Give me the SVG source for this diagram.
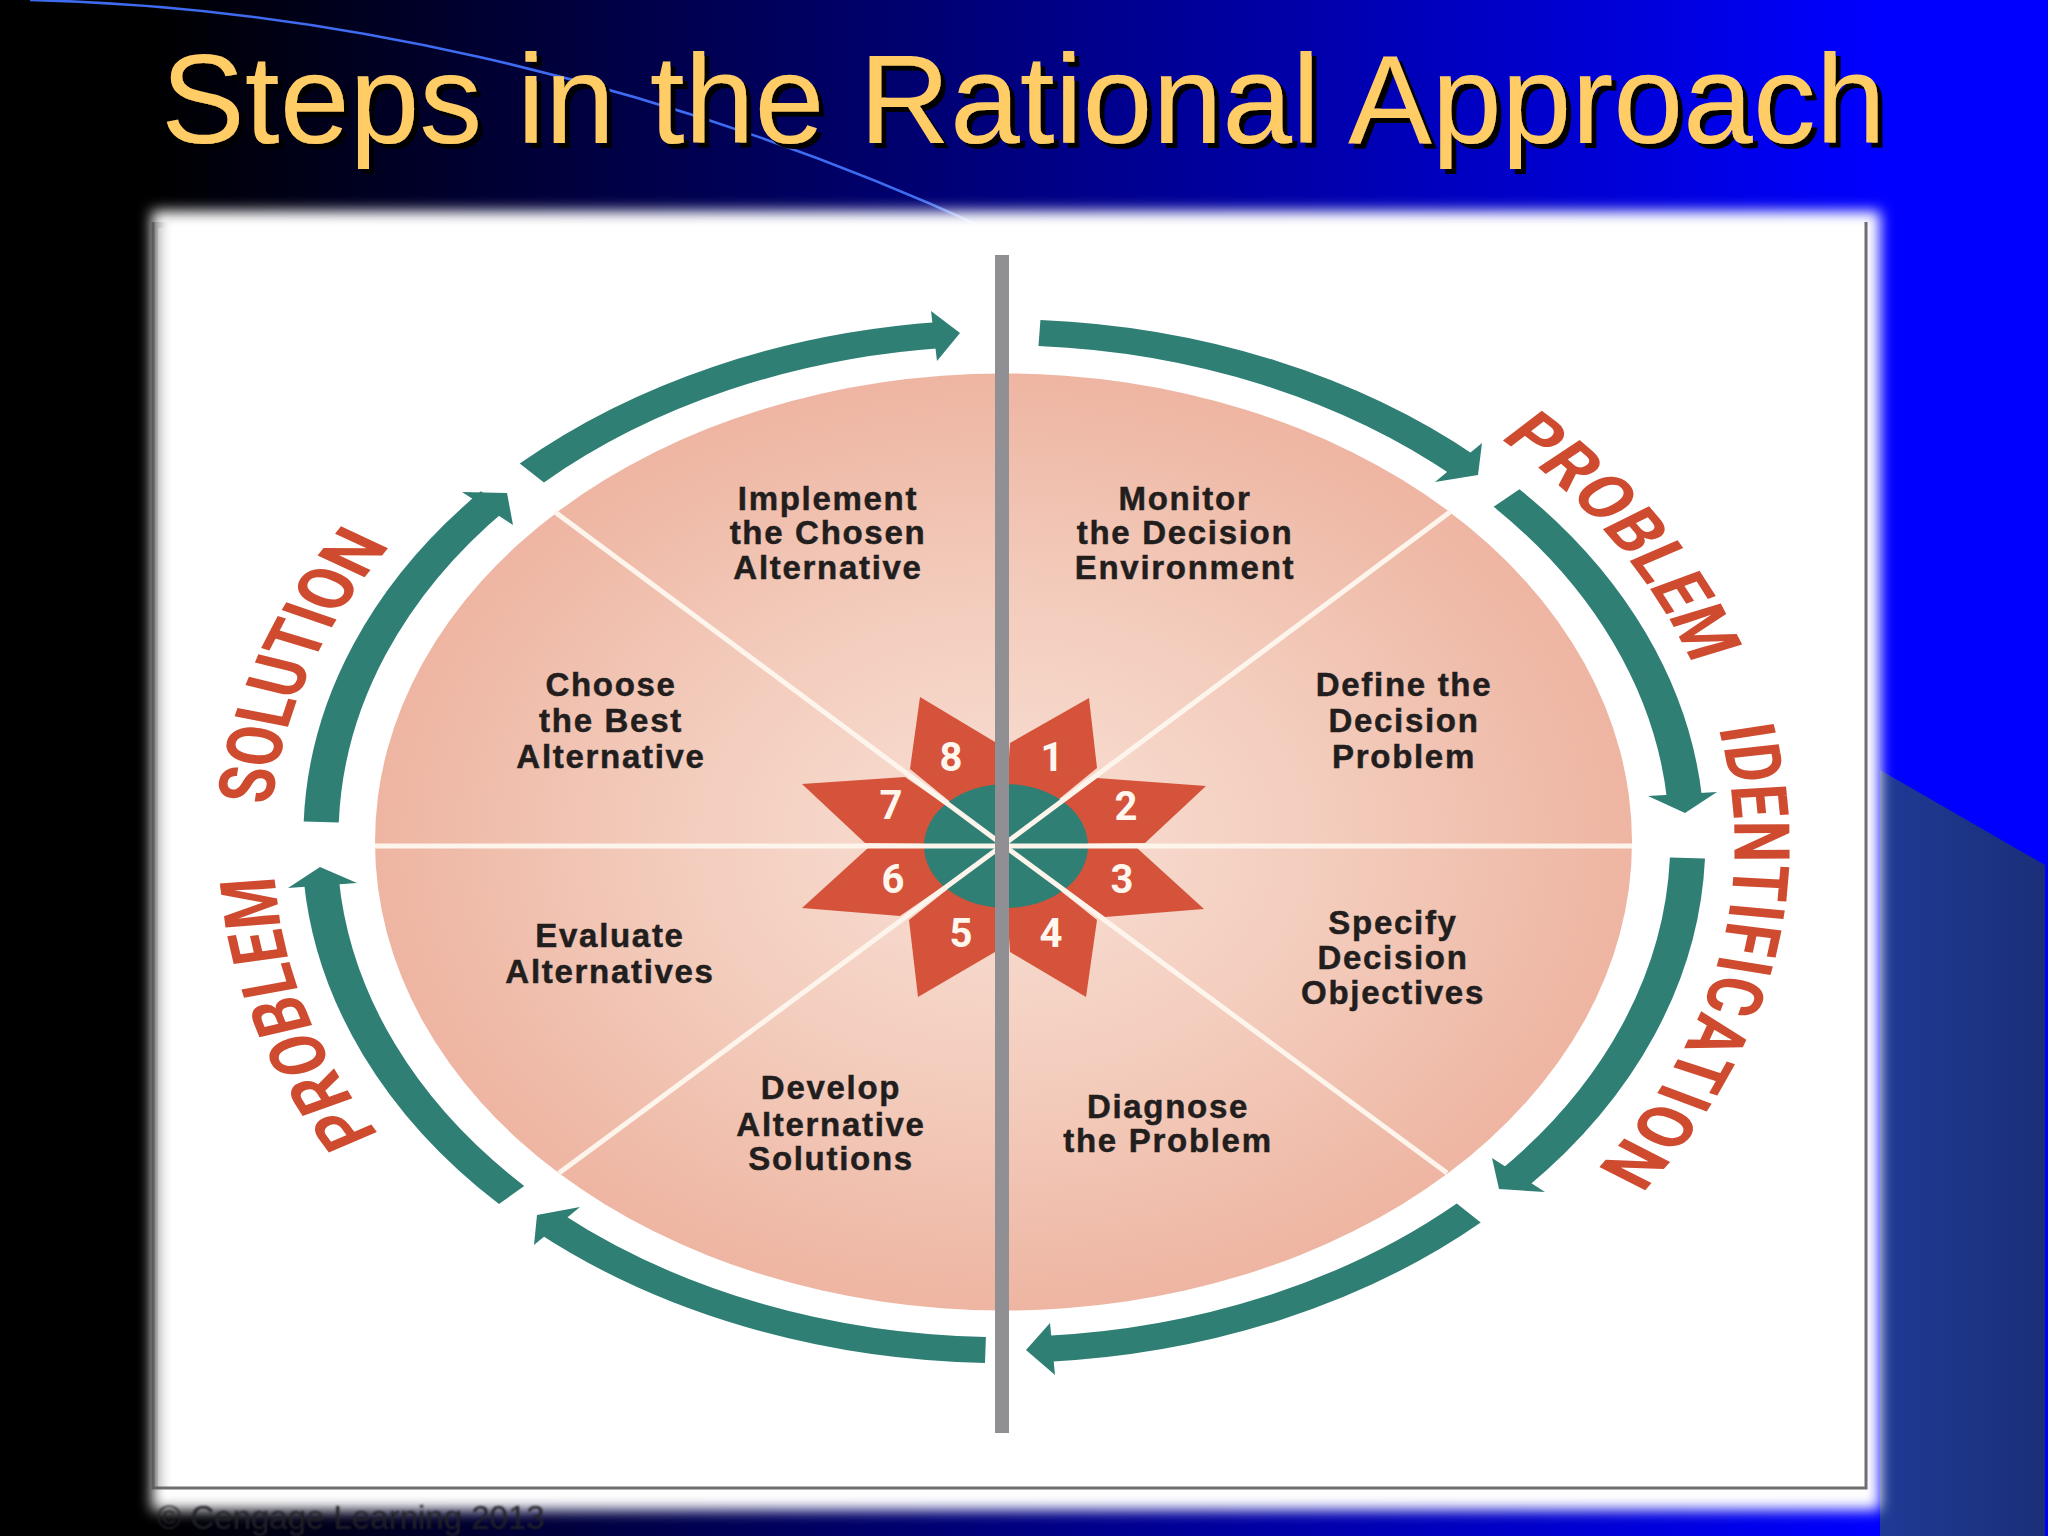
<svg xmlns="http://www.w3.org/2000/svg" width="2048" height="1536" viewBox="0 0 2048 1536">
<style>
.title{font-family:"Liberation Sans",Arial,sans-serif;font-size:125.6px;fill:#ffcc66}
.step{font-family:"Liberation Sans",Arial,sans-serif;font-weight:700;font-size:33px;letter-spacing:1.7px;fill:#221e1e;stroke:#221e1e;stroke-width:0.5;text-anchor:middle}
.num{font-family:"Roboto","Liberation Sans",sans-serif;font-weight:700;font-size:40px;fill:#fff6ee;text-anchor:middle}
.arc{font-family:"Roboto","Liberation Sans",sans-serif;font-weight:700;font-size:59px;fill:#cf4b30}
.copy{font-family:"Liberation Sans",Arial,sans-serif;font-size:33px;fill:#222228}
.div{stroke:#fdf4ec;stroke-width:5;fill:none}
.body{fill:none;stroke:#2f7f75;stroke-width:26}
.head{fill:#2f7f75}
.pt{fill:#d4533a}
</style>
<defs>
<linearGradient id="bg" x1="0" y1="0" x2="1" y2="0">
<stop offset="0.07" stop-color="#000"/><stop offset="0.92" stop-color="#0000ff"/>
</linearGradient>
<linearGradient id="low" x1="0" y1="0" x2="1" y2="0">
<stop offset="0" stop-color="#1f3a96"/><stop offset="1" stop-color="#1b2f78"/>
</linearGradient>
<linearGradient id="edge" x1="0" y1="0" x2="1" y2="0">
<stop offset="0" stop-color="#777" stop-opacity="0.65"/><stop offset="1" stop-color="#fff" stop-opacity="0"/>
</linearGradient>
<radialGradient id="disc" cx="0.5" cy="0.5" r="0.5">
<stop offset="0" stop-color="#f8e0d5"/><stop offset="0.55" stop-color="#f3cbbb"/><stop offset="1" stop-color="#eeb5a2"/>
</radialGradient>
<filter id="soft" x="-5%" y="-5%" width="110%" height="110%"><feGaussianBlur stdDeviation="7"/></filter>
<filter id="shadow" x="-2%" y="-10%" width="104%" height="125%"><feDropShadow dx="5" dy="5" stdDeviation="0.6" flood-color="#000"/></filter>
<filter id="blur1"><feGaussianBlur stdDeviation="0.9"/></filter>
<path id="p1" d="M378 -407A556 556 0 0 1 540 -130"/>
<path id="p2" d="M545 -117A556 556 0 0 1 420 365"/>
<path id="p3" d="M-475 290A556 556 0 0 1 -555 -20"/>
<path id="p4" d="M-557 -40A556 556 0 0 1 -440 -336"/>
</defs>
<g id="background">
<rect width="2048" height="1536" fill="url(#bg)"/>
<polygon points="1880,770 2045,865 2045,1536 1880,1536" fill="url(#low)"/>
<path d="M30 0C300 6 640 70 985 228" fill="none" stroke="#3f6bf0" stroke-width="2.5"/>
</g>
<g id="title"><text class="title" x="161" y="143" filter="url(#shadow)">Steps in the Rational Approach</text></g>
<g id="panel">
<rect x="152" y="211" width="1728" height="1299" fill="#fff" filter="url(#soft)"/>
<rect x="158" y="228" width="1708" height="1260" fill="#fff"/>
<rect x="154" y="222" width="20" height="1266" fill="url(#edge)"/>
<path d="M153 222V1488H1866V222" fill="none" stroke="#555" stroke-width="3" opacity="0.85"/>
<text class="copy" x="157" y="1529" filter="url(#blur1)">© Cengage Learning 2013</text>
</g>
<g id="disc"><ellipse cx="1003.5" cy="842" rx="628.5" ry="468.5" fill="url(#disc)"/></g>
<g id="hub">
<polygon class="pt" points="1089,698 1010,743 1003,845 1097,768"/>
<polygon class="pt" points="1097,778 1206,786 1145,843 1003,845"/>
<polygon class="pt" points="1137,848 1204,909 1105,917 1003,845"/>
<polygon class="pt" points="1097,920 1086,997 1010,952 1003,845"/>
<polygon class="pt" points="995,952 918,997 909,920 1003,845"/>
<polygon class="pt" points="900,916 802,908 868,848 1003,845"/>
<polygon class="pt" points="865,843 802,784 905,777 1003,845"/>
<polygon class="pt" points="910,769 920,697 995,742 1003,845"/>
<ellipse cx="1006" cy="846" rx="82" ry="62" fill="#2f7f75"/>
</g>
<g id="dividers">
<path class="div" d="M375 846H1632"/>
<path class="div" d="M1003 845L1450 512"/>
<path class="div" d="M1003 845L555 512"/>
<path class="div" d="M1003 845L559 1173"/>
<path class="div" d="M1003 845L1447 1173"/>
</g>
<rect id="spine" x="995" y="255" width="14" height="1178" fill="#8f8f94"/>
<g id="numbers">
<text class="num" x="1052" y="771">1</text>
<text class="num" x="1126" y="820">2</text>
<text class="num" x="1122" y="893">3</text>
<text class="num" x="1051" y="947">4</text>
<text class="num" x="961" y="947">5</text>
<text class="num" x="893" y="893">6</text>
<text class="num" x="891" y="819">7</text>
<text class="num" x="951" y="771">8</text>
</g>
<g id="connectors">
<g transform="translate(1003 845) scale(1.35 1)">
<path class="body" d="M27 -512A508 508 0 0 1 343 -378"/>
<path class="body" d="M373 -347A508 508 0 0 1 505 -45"/>
<path class="body" d="M507 13A508 508 0 0 1 378 334"/>
<path class="body" d="M345 368A508 508 0 0 1 31 504"/>
<path class="body" d="M-13 505A508 508 0 0 1 -336 378"/>
<path class="body" d="M-364 350A508 508 0 0 1 -505 34"/>
<path class="body" d="M-505 -23A508 508 0 0 1 -377 -345"/>
<path class="body" d="M-349 -372A508 508 0 0 1 -46 -510"/>
</g>
<polygon class="head" points="1482,443 1478,475 1435,482"/>
<polygon class="head" points="1648,796 1685,813 1717,792"/>
<polygon class="head" points="1492,1158 1499,1189 1545,1192"/>
<polygon class="head" points="1050,1323 1026,1350 1055,1375"/>
<polygon class="head" points="580,1207 537,1215 534,1245"/>
<polygon class="head" points="288,888 320,867 357,883"/>
<polygon class="head" points="462,492 507,493 513,525"/>
<polygon class="head" points="931,311 960,333 937,361"/>
</g>
<g id="ring-labels" transform="translate(1003 845) scale(1.3127 1)">
<text class="arc"><textPath href="#p1" textLength="272" lengthAdjust="spacing">PROBLEM</textPath></text>
<text class="arc"><textPath href="#p2" textLength="465" lengthAdjust="spacing">IDENTIFICATION</textPath></text>
<text class="arc"><textPath href="#p3" textLength="274" lengthAdjust="spacing">PROBLEM</textPath></text>
<text class="arc"><textPath href="#p4" textLength="278" lengthAdjust="spacing">SOLUTION</textPath></text>
</g>
<g id="step-1"><text class="step" x="1185" y="510">Monitor</text><text class="step" x="1185" y="544">the Decision</text><text class="step" x="1185" y="579">Environment</text></g>
<g id="step-2"><text class="step" x="1404" y="696">Define the</text><text class="step" x="1404" y="732">Decision</text><text class="step" x="1404" y="768">Problem</text></g>
<g id="step-3"><text class="step" x="1393" y="934">Specify</text><text class="step" x="1393" y="969">Decision</text><text class="step" x="1393" y="1004">Objectives</text></g>
<g id="step-4"><text class="step" x="1168" y="1118">Diagnose</text><text class="step" x="1168" y="1152">the Problem</text></g>
<g id="step-5"><text class="step" x="831" y="1099">Develop</text><text class="step" x="831" y="1136">Alternative</text><text class="step" x="831" y="1170">Solutions</text></g>
<g id="step-6"><text class="step" x="610" y="947">Evaluate</text><text class="step" x="610" y="983">Alternatives</text></g>
<g id="step-7"><text class="step" x="611" y="696">Choose</text><text class="step" x="611" y="732">the Best</text><text class="step" x="611" y="768">Alternative</text></g>
<g id="step-8"><text class="step" x="828" y="510">Implement</text><text class="step" x="828" y="544">the Chosen</text><text class="step" x="828" y="579">Alternative</text></g>
</svg>
